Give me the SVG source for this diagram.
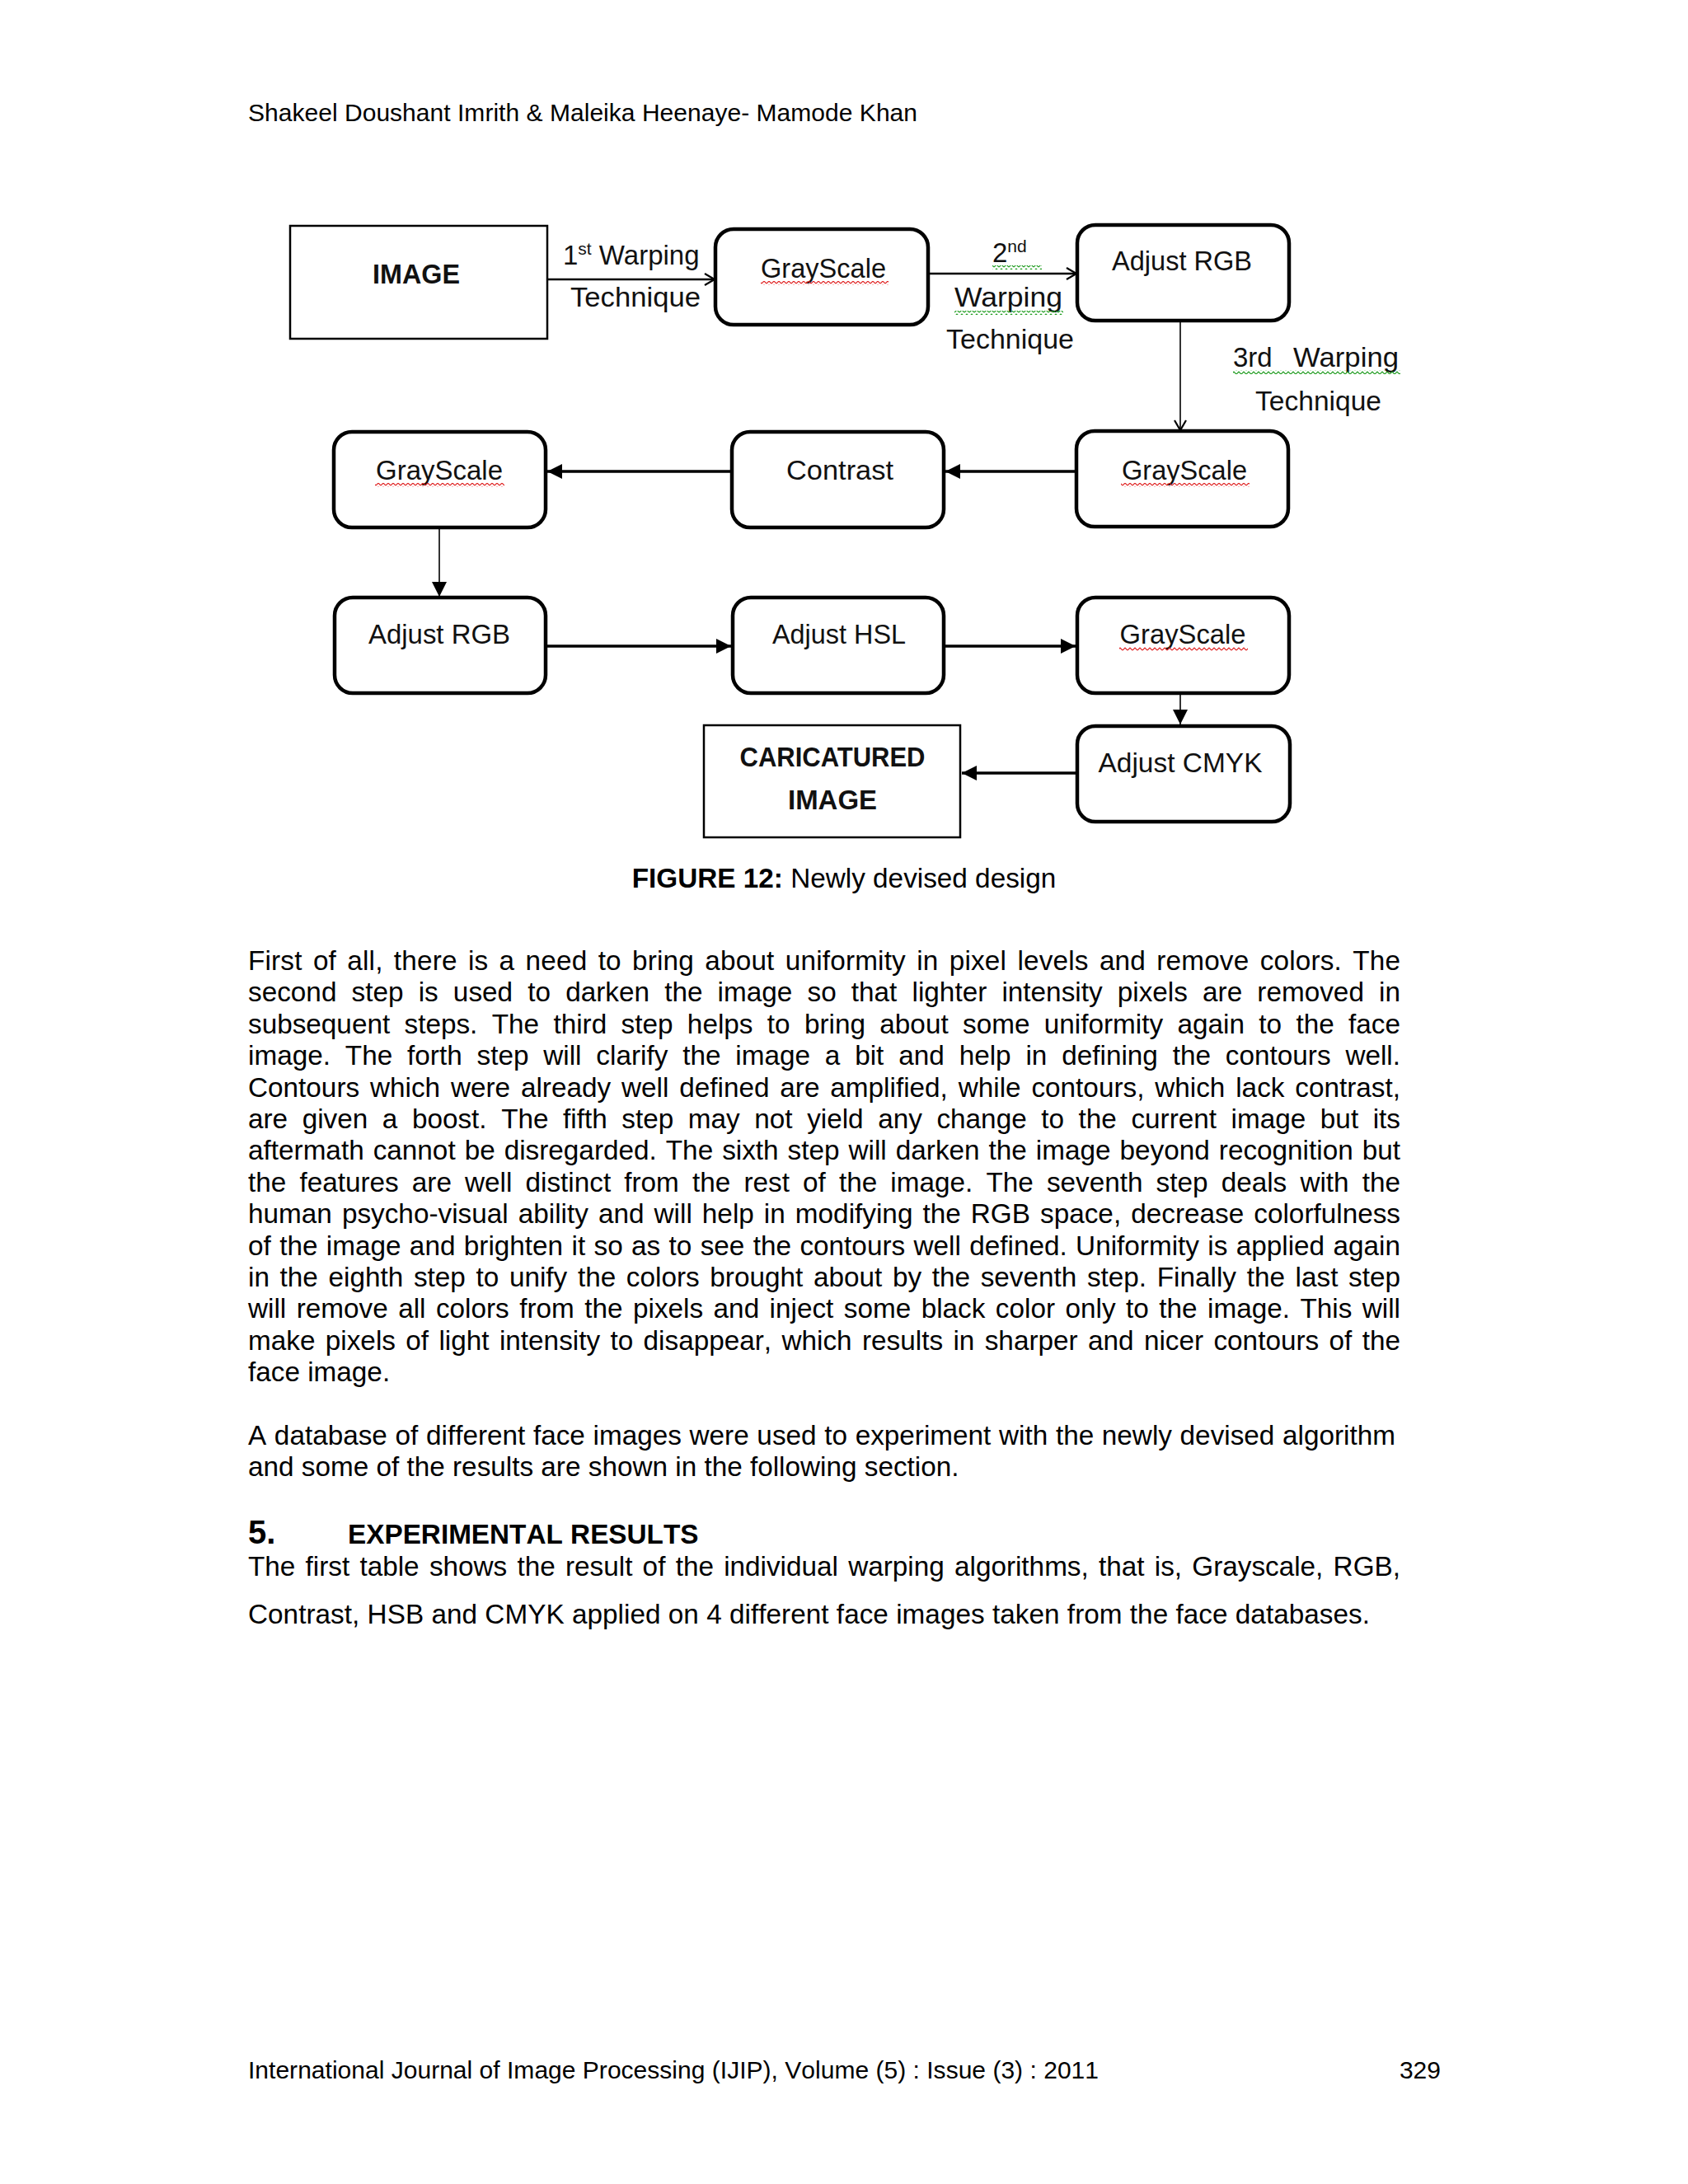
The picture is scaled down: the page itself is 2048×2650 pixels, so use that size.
<svg xmlns="http://www.w3.org/2000/svg" width="2048" height="2650" viewBox="0 0 2048 2650">
<style>
.page{font-family:"Liberation Sans",Arial,Helvetica,sans-serif;fill:#000;font-kerning:none}
.hdr{font-size:30px}
.body{font-size:33.3px}
.b{font-weight:bold}
.lbl{font-family:"Liberation Sans",Arial,sans-serif;font-size:33px;fill:#111}
.box{fill:#fff;stroke:#000;stroke-width:2.5}
.rbox{fill:#fff;stroke:#000;stroke-width:4.5}
.thick{stroke:#000;stroke-width:3.5;fill:none}
.mid{stroke:#000;stroke-width:2.5;fill:none}
.thin{stroke:#000;stroke-width:1.6;fill:none}
</style>
<defs>
<marker id="open" markerUnits="userSpaceOnUse" markerWidth="16" markerHeight="18" refX="13" refY="8" orient="auto">
<path d="M1,1 L13,8 L1,15" fill="none" stroke="#000" stroke-width="2.2"/>
</marker>
<marker id="tri" markerUnits="userSpaceOnUse" markerWidth="20" markerHeight="20" refX="18" refY="9" orient="auto">
<path d="M0,0 L18,9 L0,18 z" fill="#000"/>
</marker>
<pattern id="wavyRed" width="6" height="5" patternUnits="userSpaceOnUse">
<path d="M0,4 L3,1 L6,4" fill="none" stroke="#e02020" stroke-width="1.2"/>
</pattern>
<pattern id="wavyGreen" width="6" height="5" patternUnits="userSpaceOnUse">
<path d="M0,4 L3,1 L6,4" fill="none" stroke="#1a9a1a" stroke-width="1.2"/>
</pattern>
</defs>
<rect width="2048" height="2650" fill="#fff"/>

<text class="page hdr" x="301" y="147" textLength="812" lengthAdjust="spacing">Shakeel Doushant Imrith &amp; Maleika Heenaye- Mamode Khan</text>

<g id="connectors">
<line class="mid" x1="664" y1="339" x2="867" y2="339" marker-end="url(#open)"/>
<line class="mid" x1="1127" y1="332" x2="1306" y2="332" marker-end="url(#open)"/>
<line class="thin" x1="1432" y1="389" x2="1432" y2="522" marker-end="url(#open)"/>
<line class="thick" x1="1305" y1="572" x2="1147" y2="572" marker-end="url(#tri)"/>
<line class="thick" x1="887" y1="572" x2="664" y2="572" marker-end="url(#tri)"/>
<line class="thin" x1="533" y1="641" x2="533" y2="724" marker-end="url(#tri)"/>
<line class="thick" x1="663" y1="784" x2="887" y2="784" marker-end="url(#tri)"/>
<line class="thick" x1="1146" y1="784" x2="1305" y2="784" marker-end="url(#tri)"/>
<line class="thin" x1="1432" y1="842" x2="1432" y2="879" marker-end="url(#tri)"/>
<line class="thick" x1="1306" y1="938" x2="1167" y2="938" marker-end="url(#tri)"/>
</g>

<g id="edge-labels">
<text class="lbl" x="683" y="321">1<tspan font-size="21" dy="-12">st</tspan><tspan dy="12"> Warping</tspan></text>
<text class="lbl" x="692" y="372" textLength="158" lengthAdjust="spacingAndGlyphs">Technique</text>
<text class="lbl" x="1204" y="318">2<tspan font-size="21" dy="-12">nd</tspan></text>
<rect x="1204" y="322" width="60" height="5" fill="url(#wavyGreen)"/>
<text class="lbl" x="1158" y="372" textLength="131" lengthAdjust="spacingAndGlyphs">Warping</text>
<rect x="1158" y="377" width="132" height="5" fill="url(#wavyGreen)"/>
<text class="lbl" x="1148" y="423" textLength="155" lengthAdjust="spacingAndGlyphs">Technique</text>
<text class="lbl" y="445"><tspan x="1496">3rd</tspan><tspan x="1569" textLength="128" lengthAdjust="spacingAndGlyphs">Warping</tspan></text>
<rect x="1496" y="449" width="203" height="5" fill="url(#wavyGreen)"/>
<text class="lbl" x="1523" y="498" textLength="153" lengthAdjust="spacingAndGlyphs">Technique</text>
</g>

<g id="node-image">
<rect class="box" x="352" y="274" width="312" height="137"/>
<text class="lbl b" x="505" y="344" text-anchor="middle" textLength="106" lengthAdjust="spacingAndGlyphs">IMAGE</text>
</g>

<g id="node-grayscale1">
<rect class="rbox" x="868" y="278" width="258" height="116" rx="22"/>
<text class="lbl" x="999" y="337" text-anchor="middle" textLength="152" lengthAdjust="spacingAndGlyphs">GrayScale</text>
<rect x="923" y="341" width="155" height="5" fill="url(#wavyRed)"/>
</g>

<g id="node-adjustrgb1">
<rect class="rbox" x="1307" y="273" width="257" height="116" rx="22"/>
<text class="lbl" x="1434" y="328" text-anchor="middle" textLength="170" lengthAdjust="spacingAndGlyphs">Adjust RGB</text>
</g>

<g id="node-grayscale3">
<rect class="rbox" x="1306" y="523" width="257" height="116" rx="22"/>
<text class="lbl" x="1437" y="582" text-anchor="middle" textLength="152" lengthAdjust="spacingAndGlyphs">GrayScale</text>
<rect x="1360" y="586" width="156" height="5" fill="url(#wavyRed)"/>
</g>

<g id="node-contrast">
<rect class="rbox" x="888" y="524" width="257" height="116" rx="22"/>
<text class="lbl" x="1019" y="582" text-anchor="middle" textLength="130" lengthAdjust="spacingAndGlyphs">Contrast</text>
</g>

<g id="node-grayscale2">
<rect class="rbox" x="405" y="524" width="257" height="116" rx="22"/>
<text class="lbl" x="533" y="582" text-anchor="middle" textLength="154" lengthAdjust="spacingAndGlyphs">GrayScale</text>
<rect x="455" y="586" width="157" height="5" fill="url(#wavyRed)"/>
</g>

<g id="node-adjustrgb2">
<rect class="rbox" x="406" y="725" width="256" height="116" rx="22"/>
<text class="lbl" x="533" y="781" text-anchor="middle" textLength="172" lengthAdjust="spacingAndGlyphs">Adjust RGB</text>
</g>

<g id="node-adjusthsl">
<rect class="rbox" x="889" y="725" width="256" height="116" rx="22"/>
<text class="lbl" x="1018" y="781" text-anchor="middle" textLength="162" lengthAdjust="spacingAndGlyphs">Adjust HSL</text>
</g>

<g id="node-grayscale4">
<rect class="rbox" x="1307" y="725" width="257" height="116" rx="22"/>
<text class="lbl" x="1435" y="781" text-anchor="middle" textLength="153" lengthAdjust="spacingAndGlyphs">GrayScale</text>
<rect x="1358" y="785" width="156" height="5" fill="url(#wavyRed)"/>
</g>

<g id="node-adjustcmyk">
<rect class="rbox" x="1307" y="881" width="258" height="116" rx="22"/>
<text class="lbl" x="1432" y="937" text-anchor="middle" textLength="199" lengthAdjust="spacingAndGlyphs">Adjust CMYK</text>
</g>

<g id="node-caricatured">
<rect class="box" x="854" y="880" width="311" height="136"/>
<text class="lbl b" x="1010" y="930" text-anchor="middle" textLength="225" lengthAdjust="spacingAndGlyphs">CARICATURED</text>
<text class="lbl b" x="1010" y="982" text-anchor="middle" textLength="108" lengthAdjust="spacingAndGlyphs">IMAGE</text>
</g>

<text class="page body" x="1024" y="1077" text-anchor="middle"><tspan class="b">FIGURE 12:</tspan> Newly devised design</text>

<g class="page body">
<text x="301" y="1177" word-spacing="3.85" textLength="1398" lengthAdjust="spacing">First of all, there is a need to bring about uniformity in pixel levels and remove colors. The</text>
<text x="301" y="1215.4" word-spacing="8.9" textLength="1398" lengthAdjust="spacing">second step is used to darken the image so that lighter intensity pixels are removed in</text>
<text x="301" y="1253.8" word-spacing="8.1" textLength="1398" lengthAdjust="spacing">subsequent steps. The third step helps to bring about some uniformity again to the face</text>
<text x="301" y="1292.2" word-spacing="8.6" textLength="1398" lengthAdjust="spacing">image. The forth step will clarify the image a bit and help in defining the contours well.</text>
<text x="301" y="1330.6" word-spacing="3.6" textLength="1398" lengthAdjust="spacing">Contours which were already well defined are amplified, while contours, which lack contrast,</text>
<text x="301" y="1369" word-spacing="8.3" textLength="1398" lengthAdjust="spacing">are given a boost. The fifth step may not yield any change to the current image but its</text>
<text x="301" y="1407.4" word-spacing="1.75" textLength="1398" lengthAdjust="spacing">aftermath cannot be disregarded. The sixth step will darken the image beyond recognition but</text>
<text x="301" y="1445.8" word-spacing="6.9" textLength="1398" lengthAdjust="spacing">the features are well distinct from the rest of the image. The seventh step deals with the</text>
<text x="301" y="1484.2" word-spacing="2.8" textLength="1398" lengthAdjust="spacing">human psycho-visual ability and will help in modifying the RGB space, decrease colorfulness</text>
<text x="301" y="1522.6" word-spacing="1.1" textLength="1398" lengthAdjust="spacing">of the image and brighten it so as to see the contours well defined. Uniformity is applied again</text>
<text x="301" y="1561" word-spacing="3.4" textLength="1398" lengthAdjust="spacing">in the eighth step to unify the colors brought about by the seventh step. Finally the last step</text>
<text x="301" y="1599.4" word-spacing="3.2" textLength="1398" lengthAdjust="spacing">will remove all colors from the pixels and inject some black color only to the image. This will</text>
<text x="301" y="1637.8" word-spacing="3.1" textLength="1398" lengthAdjust="spacing">make pixels of light intensity to disappear, which results in sharper and nicer contours of the</text>
<text x="301" y="1676.2">face image.</text>

<text x="301" y="1753" word-spacing="0.4" textLength="1392" lengthAdjust="spacing">A database of different face images were used to experiment with the newly devised algorithm</text>
<text x="301" y="1791">and some of the results are shown in the following section.</text>

<text x="301" y="1873" class="b" font-size="40">5.</text>
<text x="422" y="1873" class="b">EXPERIMENTAL RESULTS</text>

<text x="301" y="1912" word-spacing="3.0" textLength="1398" lengthAdjust="spacing">The first table shows the result of the individual warping algorithms, that is, Grayscale, RGB,</text>
<text x="301" y="1969.5" textLength="1361" lengthAdjust="spacing">Contrast, HSB and CMYK applied on 4 different face images taken from the face databases.</text>
</g>

<text class="page hdr" x="301" y="2522" textLength="1032" lengthAdjust="spacing">International Journal of Image Processing (IJIP), Volume (5) : Issue (3) : 2011</text>
<text class="page hdr" x="1748" y="2522" text-anchor="end">329</text>
</svg>
